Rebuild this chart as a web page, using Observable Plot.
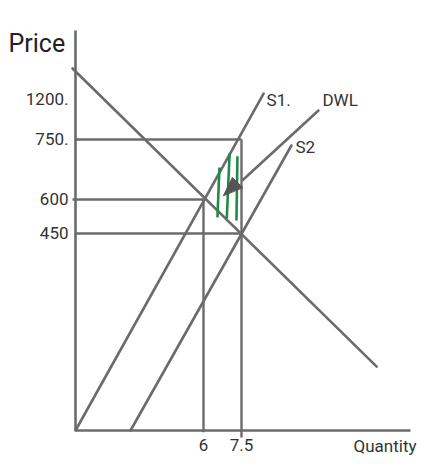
<!DOCTYPE html>
<html>
<head>
<meta charset="utf-8">
<script src="https://cdn.jsdelivr.net/npm/d3@7"></script>
<script src="https://cdn.jsdelivr.net/npm/@observablehq/plot@0.6"></script>
<style>
  html, body { margin: 0; padding: 0; background: #fff; }
  #chart svg { display: block; font-family: Roboto, "Noto Sans", sans-serif; }
</style>
</head>
<body>
<div id="chart"></div>
<script>
// ---- Data (quantity, price units) ----
const priceTicks = [450, 600, 750, 1200];
const priceTickLabels = ["450", "600", "750.", "1200."];
const quantityTicks = [6, 7.5];
const quantityTickLabels = ["6", "7.5"];

// Demand curve endpoints
const demand = [{q: -0.14, p: 1549}, {q: 12.7, p: 146}];
// Original supply S1
const supply1 = [{q: 0, p: 0}, {q: 8.35, p: 1267}];
// Shifted supply S2
const supply2 = [{q: 2.58, p: 0}, {q: 9.42, p: 735}];
// Pointer line to DWL label
const dwlPointer = [{q: 10.46, p: 1076}, {q: 7.54, p: 648}];
const dwlArrow = [{q: 6.79, p: 610}, {q: 7.14, p: 655}, {q: 7.54, p: 630}];
// Hatch strokes (deadweight loss)
const hatch = [
  {q1: 6.63, p1: 680, q2: 6.55, p2: 521},
  {q1: 7.03, p1: 715, q2: 6.92, p2: 516},
  {q1: 7.34, p1: 708, q2: 7.30, p2: 507}
];
// Axis lines and dropped guide lines
const axesLines = [
  {q1: 0, p1: 0, q2: 0, p2: 1976},
  {q1: 0, p1: 0, q2: 14, p2: 0}
];
const guides = [
  {q1: 0, p1: 750, q2: 7.5, p2: 750},
  {q1: -0.14, p1: 600, q2: 6, p2: 600},
  {q1: 0, p1: 450, q2: 7.5, p2: 450},
  {q1: 7.5, p1: -16, q2: 7.5, p2: 750},
  {q1: 6, p1: -4, q2: 6, p2: 600}
];
// Curve labels
const labelS1 = [{q: 8.35, p: 1267, text: "S1."}];
const labelDWL = [{q: 10.46, p: 1076, text: "DWL"}];
const labelS2 = [{q: 9.42, p: 735, text: "S2"}];
const titlePrice = [{q: 0, p: 1976, text: "Price"}];
const titleQuantity = [{q: 14, p: 0, text: "Quantity"}];

const gray = "#6b6b6b";
const green = "#23894a";
const textColor = "#333";

const chart = Plot.plot({
  width: 434,
  height: 470,
  marginLeft: 75,
  marginRight: 24,
  marginTop: 30,
  marginBottom: 40,
  x: {type: "linear", domain: [0, 6, 7.5, 14], range: [75, 203, 241, 410]},
  y: {type: "linear", domain: [0, 450, 600, 750, 1200, 1976], range: [430, 233, 199, 139, 99, 30]},
  marks: [
    Plot.link(axesLines, {x1: "q1", y1: "p1", x2: "q2", y2: "p2", stroke: gray, strokeWidth: 2.6}),
    Plot.link(guides, {x1: "q1", y1: "p1", x2: "q2", y2: "p2", stroke: gray, strokeWidth: 2.4}),
    Plot.line(demand, {x: "q", y: "p", stroke: gray, strokeWidth: 2.6}),
    Plot.line(supply1, {x: "q", y: "p", stroke: gray, strokeWidth: 2.6}),
    Plot.line(supply2, {x: "q", y: "p", stroke: gray, strokeWidth: 2.6}),
    Plot.link(hatch, {x1: "q1", y1: "p1", x2: "q2", y2: "p2", stroke: green, strokeWidth: 2.6}),
    Plot.line(dwlPointer, {x: "q", y: "p", stroke: gray, strokeWidth: 2.6}),
    Plot.line(dwlArrow, {x: "q", y: "p", fill: "#555", stroke: "#555", strokeWidth: 1, curve: "linear-closed"}),
    Plot.axisY(priceTicks, {
      anchor: "left", tickSize: 0, tickPadding: 7, label: null,
      tickFormat: (d) => priceTickLabels[priceTicks.indexOf(d)],
      fontSize: 17, fill: textColor
    }),
    Plot.axisX(quantityTicks, {
      anchor: "bottom", tickSize: 0, tickPadding: 8, label: null,
      tickFormat: (d) => quantityTickLabels[quantityTicks.indexOf(d)],
      fontSize: 17, fill: textColor
    }),
    Plot.text(titlePrice, {x: "q", y: "p", text: "text", dx: -67, dy: 13, textAnchor: "start", fontSize: 25, fill: "#222"}),
    Plot.text(titleQuantity, {x: "q", y: "p", text: "text", dx: -57, dy: 16, textAnchor: "start", fontSize: 17, fill: textColor}),
    Plot.text(labelS1, {x: "q", y: "p", text: "text", dx: 3, dy: 7, textAnchor: "start", fontSize: 17, fill: textColor}),
    Plot.text(labelDWL, {x: "q", y: "p", text: "text", dx: 4, dy: -10, textAnchor: "start", fontSize: 17, fill: textColor}),
    Plot.text(labelS2, {x: "q", y: "p", text: "text", dx: 4, dy: 2, textAnchor: "start", fontSize: 17, fill: textColor})
  ]
});
document.getElementById("chart").appendChild(chart);
</script>
</body>
</html>
